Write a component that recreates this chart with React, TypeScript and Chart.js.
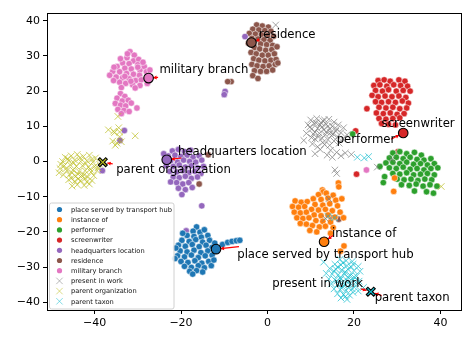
import React, { useEffect, useRef } from "react";
import { Chart, registerables } from "chart.js";

Chart.register(...registerables);

const X_TICKS = [-40, -20, 0, 20, 40];
const Y_TICKS = [-40, -30, -20, -10, 0, 10, 20, 30, 40];

type P = [number, number];

const SERIES_NAMES = [
  "place served by transport hub",
  "instance of",
  "performer",
  "screenwriter",
  "headquarters location",
  "residence",
  "military branch",
  "present in work",
  "parent organization",
  "parent taxon",
];

const placeServed: P[] = [
  [-16.4, -18.6], [-17.2, -19.8], [-15.6, -20.1], [-18.6, -21.0], [-17.0, -21.3], [-15.3, -21.5], [-13.8, -21.0],
  [-19.8, -22.4], [-18.1, -22.7], [-16.6, -22.2], [-15.0, -22.9], [-13.4, -22.4], [-20.6, -23.8], [-19.0, -24.1],
  [-17.4, -23.6], [-15.8, -24.2], [-14.2, -23.8], [-12.8, -24.4], [-20.2, -25.4], [-18.6, -25.7], [-17.0, -25.2],
  [-15.4, -25.9], [-13.8, -25.4], [-20.8, -26.8], [-19.2, -27.1], [-17.6, -26.6], [-16.0, -27.3], [-14.4, -26.8],
  [-12.8, -26.6], [-20.0, -28.4], [-18.4, -28.7], [-16.8, -28.2], [-15.2, -28.9], [-13.6, -28.4], [-19.2, -29.8],
  [-17.6, -30.1], [-16.0, -29.6], [-14.6, -30.2], [-18.0, -31.2], [-16.4, -31.0], [-21.2, -24.6], [-12.2, -23.2],
  [-10.4, -23.6], [-9.2, -23.0], [-8.2, -22.7], [-7.2, -22.5], [-6.4, -22.4], [-13.0, -29.6], [-19.6, -20.4],
  [-14.6, -19.4], [-21.4, -27.6], [-12.4, -28.0], [-15.0, -31.4], [-17.3, -32.0],
];

const instanceOf: P[] = [
  [12.7, -8.1], [16.4, -6.1], [12.9, -8.6], [11.8, -9.4], [13.6, -9.0], [15.2, -9.6], [10.6, -10.6], [12.4, -10.8],
  [14.0, -10.4], [15.8, -11.0], [17.2, -10.6], [6.4, -11.2], [7.8, -11.6], [9.2, -11.4], [11.0, -12.2], [12.8, -12.4],
  [14.4, -12.0], [16.2, -12.6], [5.8, -12.8], [7.2, -13.0], [8.6, -12.8], [10.2, -13.6], [11.8, -13.8], [13.4, -13.6],
  [15.0, -14.0], [16.8, -14.4], [6.2, -14.4], [7.6, -14.6], [9.0, -14.4], [10.8, -15.2], [12.4, -15.4], [14.0, -15.2],
  [15.6, -15.8], [6.8, -16.0], [8.2, -16.2], [9.6, -16.0], [11.2, -16.8], [12.8, -17.0], [14.6, -17.2], [7.6, -17.6],
  [9.0, -17.8], [10.4, -18.2], [12.0, -18.6], [13.4, -18.4], [15.2, -18.8], [9.8, -19.6], [11.4, -20.0], [14.6, -20.4],
  [17.7, -24.0], [16.9, -25.5], [17.6, -16.0], [29.4, -4.7], [29.2, -8.5], [16.5, -7.2],
];

const performer: P[] = [
  [29.0, 2.4], [30.6, 2.8], [32.2, 2.2], [34.0, 2.6], [35.6, 1.8], [28.2, 1.0], [29.8, 1.2], [31.4, 0.8], [33.0, 1.2],
  [34.6, 0.6], [36.2, 0.4], [37.8, 0.8], [27.4, -0.4], [29.0, -0.2], [30.6, -0.6], [32.2, -0.2], [33.8, -0.8],
  [35.4, -0.6], [37.0, -1.0], [38.6, -0.6], [28.2, -1.8], [29.8, -2.0], [31.4, -1.6], [33.0, -2.2], [34.6, -2.0],
  [36.2, -2.4], [37.8, -2.0], [39.4, -1.8], [29.0, -3.4], [30.6, -3.6], [32.2, -3.2], [33.8, -3.8], [35.4, -3.6],
  [37.0, -3.4], [38.6, -3.8], [30.0, -5.0], [31.6, -5.2], [33.2, -5.0], [34.8, -5.4], [36.4, -5.0], [38.0, -5.2],
  [31.0, -6.6], [32.8, -6.8], [34.4, -6.4], [36.0, -7.0], [37.6, -6.6], [39.2, -7.0], [34.0, -8.4], [36.8, -8.6],
  [38.4, -9.0], [26.0, -1.4], [27.1, -4.3], [19.7, 7.8], [26.8, -6.0],
];

const screenwriter: P[] = [
  [25.6, 23.0], [27.0, 23.2], [28.4, 22.8], [30.4, 23.2], [31.8, 22.8], [24.6, 21.6], [26.0, 21.8], [27.6, 21.4],
  [29.2, 21.8], [30.8, 21.6], [32.4, 21.4], [25.0, 20.2], [26.6, 20.0], [28.0, 20.4], [29.8, 20.0], [31.4, 20.2],
  [33.0, 20.0], [24.2, 18.8], [25.6, 18.4], [27.2, 18.6], [28.8, 18.4], [30.4, 18.6], [32.0, 18.2], [25.0, 17.0],
  [26.4, 16.8], [28.0, 17.0], [29.6, 16.8], [31.2, 17.2], [32.6, 16.6], [25.8, 15.4], [27.4, 15.2], [29.0, 15.4],
  [30.6, 15.0], [32.2, 15.2], [25.2, 13.8], [26.8, 13.6], [28.4, 13.8], [30.0, 13.4], [31.6, 13.6], [25.8, 12.2],
  [27.4, 12.0], [29.0, 12.2], [30.6, 12.4], [26.4, 10.8], [28.0, 10.6], [29.6, 10.4], [23.0, 15.0], [20.6, -3.6],
  [20.4, 8.7], [30.2, 2.8],
];

const headquarters: P[] = [
  [-22.0, 3.0], [-20.6, 3.4], [-19.2, 2.8], [-17.8, 3.2], [-23.0, 1.6], [-21.4, 1.8], [-20.0, 1.4], [-18.6, 1.8],
  [-17.2, 1.2], [-15.8, 1.6], [-22.4, 0.2], [-20.8, -0.2], [-19.4, 0.4], [-18.0, 0.0], [-16.6, -0.2], [-15.2, 0.4],
  [-23.4, -1.2], [-21.8, -1.4], [-20.4, -1.0], [-19.0, -1.6], [-17.6, -1.2], [-16.2, -1.8], [-14.8, -1.4],
  [-22.6, -2.8], [-21.0, -3.0], [-19.6, -2.6], [-18.2, -3.2], [-16.8, -2.8], [-15.4, -3.4], [-21.8, -4.4],
  [-20.4, -4.6], [-19.0, -4.2], [-17.6, -4.8], [-16.2, -4.4], [-22.4, -5.8], [-21.0, -6.0], [-19.6, -6.4],
  [-18.2, -6.0], [-20.6, -7.6], [-19.0, -8.0], [-17.4, -7.4], [-19.8, -9.4], [-15.2, -12.6], [-24.0, 2.2],
  [-38.2, -2.6], [-33.1, 8.8], [-34.1, 6.0], [-5.2, 35.5], [-9.8, 19.9], [-10.0, 19.0], [-18.8, -19.7],
];

const residence: P[] = [
  [-2.5, 38.8], [-1.2, 38.5], [0.2, 38.2], [-3.4, 37.6], [-2.0, 37.4], [-0.6, 37.2], [0.8, 37.0], [-4.2, 36.4],
  [-2.8, 36.2], [-1.4, 36.0], [0.0, 35.8], [1.4, 35.6], [-3.6, 35.0], [-2.2, 34.8], [-0.8, 34.6], [0.6, 34.4],
  [-4.4, 33.6], [-1.6, 33.4], [-0.2, 33.2], [1.2, 33.0], [-3.0, 32.4], [-1.8, 32.0], [-0.4, 31.6], [1.0, 31.8],
  [2.2, 32.6], [-3.8, 31.0], [-2.6, 30.6], [-1.2, 30.2], [0.2, 30.2], [1.6, 30.6], [-3.2, 29.2], [-2.0, 28.8],
  [-0.6, 28.6], [0.8, 28.8], [2.0, 29.0], [-3.6, 27.6], [-2.4, 27.2], [-1.0, 27.0], [0.4, 27.2], [1.8, 27.6],
  [-3.0, 25.8], [-1.6, 25.6], [-0.2, 25.6], [1.2, 26.0], [-3.4, 24.4], [-2.2, 23.6], [2.4, 28.0], [-15.8, -6.4],
  [-13.7, 1.9], [-8.4, 22.7], [-9.2, 22.7], [14.8, -16.1], [16.5, -16.4],
];

const militaryBranch: P[] = [
  [-31.8, 31.2], [-30.8, 30.2], [-32.5, 29.5], [-31.0, 28.6], [-29.8, 29.0], [-33.5, 28.0], [-32.0, 27.8],
  [-30.0, 27.5], [-34.8, 27.0], [-33.0, 26.5], [-31.5, 26.3], [-29.5, 26.0], [-28.5, 27.0], [-35.8, 25.6],
  [-34.2, 25.5], [-32.6, 25.0], [-31.0, 24.8], [-29.6, 24.5], [-28.0, 25.5], [-36.5, 24.5], [-35.0, 24.0],
  [-33.5, 23.8], [-32.0, 23.5], [-30.5, 23.0], [-29.2, 23.2], [-27.2, 26.0], [-34.2, 22.5], [-32.8, 22.2],
  [-31.2, 21.8], [-29.5, 21.6], [-35.6, 23.0], [-27.8, 22.2], [-33.8, 21.0], [-30.0, 26.8], [-32.4, 30.6],
  [-34.0, 29.2], [-35.5, 26.8], [-28.8, 28.2], [-33.0, 24.2], [-31.6, 22.8], [-30.6, 20.9],
  [-34.0, 19.3], [-33.0, 18.5], [-34.8, 18.0], [-33.6, 17.2], [-32.2, 17.4], [-35.2, 16.5], [-34.0, 16.0],
  [-32.8, 15.8], [-31.5, 16.6], [-34.6, 14.8], [-33.2, 14.5], [-32.0, 14.2], [-30.2, 15.2], [-33.8, 13.6],
  [22.9, -2.4],
];

const presentInWork: P[] = [
  [10.0, 11.8], [11.4, 12.2], [12.8, 11.6], [14.2, 12.0], [15.4, 11.2], [9.4, 10.4], [10.8, 10.8], [12.2, 10.4],
  [13.6, 10.6], [15.0, 10.0], [16.4, 10.4], [17.6, 9.6], [10.2, 9.2], [11.6, 9.4], [13.0, 9.0], [14.4, 9.2],
  [15.8, 8.6], [17.0, 8.2], [9.0, 8.0], [10.6, 7.8], [12.0, 8.0], [13.4, 7.6], [14.8, 7.4], [16.2, 7.0], [18.4, 7.6],
  [11.0, 6.4], [12.6, 6.6], [14.0, 6.2], [15.4, 5.8], [8.4, 6.0], [10.4, 5.0], [13.2, 4.8], [16.6, 5.2], [12.2, 3.4],
  [14.6, 3.2], [16.0, 2.6], [18.0, 2.4], [19.4, 2.0], [11.0, 2.2], [13.8, 1.8], [15.6, -2.4], [16.0, -3.4],
  [14.2, -10.6], [13.4, -16.2], [25.4, -1.6], [28.8, 0.6], [1.9, 38.8], [12.4, 11.0], [14.6, 8.2], [11.8, 7.0],
  [11.2, 11.0], [13.2, 11.8], [9.8, 9.8], [12.6, 9.8], [14.0, 10.0], [16.0, 9.2], [11.0, 8.4], [13.6, 8.4],
  [15.2, 7.8], [10.2, 6.8], [12.8, 5.4], [14.4, 4.6], [11.6, 4.2], [17.4, 6.4], [15.0, 1.2], [17.0, 1.6],
];

const parentOrganization: P[] = [
  [-46.8, 1.2], [-45.4, 1.6], [-44.0, 2.0], [-42.6, 1.4], [-41.2, 1.8], [-39.8, 1.0], [-47.4, 0.0], [-46.0, 0.2],
  [-44.6, 0.4], [-43.2, 0.0], [-41.8, 0.2], [-40.4, -0.2], [-47.0, -1.2], [-45.6, -1.0], [-44.2, -1.4],
  [-42.8, -1.2], [-41.4, -1.6], [-40.0, -1.4], [-46.4, -2.6], [-45.0, -2.4], [-43.6, -2.8], [-42.2, -2.6],
  [-40.8, -3.0], [-39.4, -2.6], [-47.2, -3.8], [-45.8, -3.8], [-44.4, -4.2], [-43.0, -4.0], [-41.6, -4.4],
  [-40.2, -4.0], [-46.0, -5.2], [-44.6, -5.6], [-43.2, -5.4], [-41.8, -5.8], [-40.6, -5.4], [-44.0, -6.6],
  [-42.4, -6.8], [-48.0, -2.0], [-38.8, -0.8], [-45.2, -7.0], [-34.6, 12.8], [-36.8, 9.0], [-34.4, 9.6],
  [-35.4, 8.2], [-34.2, 7.0], [-35.8, 5.8], [-34.8, 5.2], [-35.2, 4.6], [-30.6, 7.3], [-33.8, 5.6], [40.2, -7.1],
  [-46.2, 0.8], [-44.8, -0.4], [-43.4, 1.0], [-42.0, -0.6], [-40.6, 0.6], [-46.6, -2.0], [-45.2, -3.2],
  [-43.8, -3.6], [-42.4, -3.8], [-41.0, -2.2], [-45.4, -4.8], [-43.8, -5.0], [-42.2, -4.8], [-47.8, -0.8],
  [-39.2, -1.8], [-48.2, -3.2], [-41.2, -6.4], [-35.6, 8.6], [-34.2, 8.4],
];

const parentTaxon: P[] = [
  [16.8, -27.8], [18.2, -28.2], [19.6, -28.4], [15.6, -29.2], [17.0, -29.4], [18.4, -29.6], [19.8, -29.2],
  [21.0, -29.8], [14.4, -30.4], [15.8, -30.6], [17.2, -30.8], [18.6, -30.6], [20.0, -31.0], [21.4, -31.2],
  [13.6, -31.8], [15.0, -32.0], [16.4, -32.2], [17.8, -32.0], [19.2, -32.4], [20.6, -32.6], [14.2, -33.4],
  [15.6, -33.6], [17.0, -33.4], [18.4, -33.8], [19.8, -33.6], [21.2, -34.0], [14.8, -34.8], [16.2, -35.0],
  [17.6, -35.2], [19.0, -35.0], [20.4, -35.4], [15.4, -36.2], [16.8, -36.4], [18.2, -36.6], [19.6, -36.2],
  [21.0, -36.8], [16.2, -37.6], [17.6, -37.8], [19.0, -38.0], [17.0, -38.8], [18.4, -39.2], [22.2, -35.8],
  [13.0, -28.6], [20.8, 1.2], [22.4, 1.0], [23.4, 1.4], [14.0, -15.6], [15.5, -16.0],
  [17.4, -28.8], [16.2, -30.0], [18.0, -31.4], [19.4, -30.0], [15.4, -31.2], [16.8, -33.0], [18.6, -32.8],
  [20.0, -32.8], [17.4, -34.4], [18.8, -34.2], [16.0, -34.0], [17.2, -36.0], [18.8, -35.8], [19.8, -37.2],
  [18.0, -38.4], [20.4, -34.4],
];

const SERIES_POINTS: P[][] = [
  placeServed, instanceOf, performer, screenwriter, headquarters,
  residence, militaryBranch, presentInWork, parentOrganization, parentTaxon,
];

const ANNOTATIONS: { label: string; s: number; x: number; y: number; tx: number; ty: number; ax?: number; ay?: number }[] = [
  { label: "military branch", s: 6, x: -27.5, y: 23.7, tx: -25.0, ty: 26.0, ax: -25.3, ay: 23.9 },
  { label: "residence", s: 5, x: -3.7, y: 33.8, tx: -2.0, ty: 36.0, ax: -1.9, ay: 34.6 },
  { label: "screenwriter", s: 3, x: 31.4, y: 8.1, tx: 26.4, ty: 10.7, ax: 28.6, ay: 6.3 },
  { label: "performer", s: 2, x: 31.4, y: 8.1, tx: 16.0, ty: 6.2 },
  { label: "headquarters location", s: 4, x: -23.3, y: 0.5, tx: -20.7, ty: 2.8, ax: -19.9, ay: 1.0 },
  { label: "parent organization", s: 8, x: -38.1, y: -0.2, tx: -35.0, ty: -2.4, ax: -35.8, ay: -0.7 },
  { label: "instance of", s: 1, x: 13.1, y: -22.8, tx: 14.9, ty: -20.5, ax: 15.2, ay: -21.0 },
  { label: "place served by transport hub", s: 0, x: -11.9, y: -24.9, tx: -7.0, ty: -26.6, ax: -6.6, ay: -24.2 },
  { label: "present in work", s: 7, x: 23.9, y: -37.0, tx: 1.1, ty: -34.8, ax: 21.6, ay: -36.2 },
  { label: "parent taxon", s: 9, x: 23.9, y: -37.0, tx: 24.8, ty: -38.9, ax: 26.4, ay: -38.1 },
];

const COLORS = ["#1f77b4", "#ff7f0e", "#2ca02c", "#d62728", "#9467bd", "#8c564b", "#e377c2", "#7f7f7f", "#bcbd22", "#17becf"];
const IS_X = [false, false, false, false, false, false, false, true, true, true];

const FONT = '"DejaVu Sans", "Liberation Sans", sans-serif';

const fmt = (v: number) => (v < 0 ? "\u2212" + Math.abs(v) : String(v));

function drawX(ctx: CanvasRenderingContext2D, x: number, y: number, r: number) {
  ctx.beginPath();
  ctx.moveTo(x - r, y - r);
  ctx.lineTo(x + r, y + r);
  ctx.moveTo(x + r, y - r);
  ctx.lineTo(x - r, y + r);
  ctx.stroke();
}

function drawFilledX(ctx: CanvasRenderingContext2D, x: number, y: number, r: number, w: number) {
  const pts: [number, number][] = [
    [0, -w], [r - w, -r], [r, -r + w], [w, 0], [r, r - w], [r - w, r], [0, w], [-r + w, r], [-r, r - w], [-w, 0], [-r, -r + w], [-r + w, -r],
  ];
  ctx.beginPath();
  pts.forEach(([dx, dy], i) => (i === 0 ? ctx.moveTo(x + dx, y + dy) : ctx.lineTo(x + dx, y + dy)));
  ctx.closePath();
  ctx.fill();
  ctx.stroke();
}

const framePlugin = {
  id: "frame",
  afterDatasetsDraw(chart: any) {
    const { ctx, chartArea: a, scales } = chart;
    const xs = scales.x, ys = scales.y;
    ctx.save();
    ANNOTATIONS.forEach((an) => {
      const px = xs.getPixelForValue(an.x), py = ys.getPixelForValue(an.y);
      const color = COLORS[an.s];
      if (an.ax !== undefined && an.ay !== undefined) {
        const sx = xs.getPixelForValue(an.ax), sy = ys.getPixelForValue(an.ay);
        const ang = Math.atan2(py - sy, px - sx);
        const ex = px - Math.cos(ang) * 4.5, ey = py - Math.sin(ang) * 4.5;
        ctx.strokeStyle = "#ff0000";
        ctx.fillStyle = "#ff0000";
        ctx.lineWidth = 1.2;
        ctx.beginPath();
        ctx.moveTo(sx, sy);
        ctx.lineTo(ex, ey);
        ctx.stroke();
        const h = 4;
        ctx.beginPath();
        ctx.moveTo(ex, ey);
        ctx.lineTo(ex - Math.cos(ang - 0.5) * h, ey - Math.sin(ang - 0.5) * h);
        ctx.lineTo(ex - Math.cos(ang + 0.5) * h, ey - Math.sin(ang + 0.5) * h);
        ctx.closePath();
        ctx.fill();
      }
      if (an.label !== "performer" && an.label !== "present in work") {
        ctx.lineWidth = 1.1;
        ctx.strokeStyle = "#000";
        ctx.fillStyle = color;
        if (IS_X[an.s]) {
          drawFilledX(ctx, px, py, 4.5, 1.6);
        } else {
          ctx.beginPath();
          ctx.arc(px, py, 4.8, 0, Math.PI * 2);
          ctx.fill();
          ctx.stroke();
        }
      }
    });
    ctx.fillStyle = "#000";
    ctx.font = `11.7px ${FONT}`;
    ctx.textBaseline = "middle";
    ctx.textAlign = "left";
    ANNOTATIONS.forEach((an) => {
      ctx.fillText(an.label, xs.getPixelForValue(an.tx), ys.getPixelForValue(an.ty));
    });
    ctx.strokeStyle = "#000";
    ctx.lineWidth = 1;
    ctx.strokeRect(Math.round(a.left) + 0.5, Math.round(a.top) + 0.5, Math.round(a.right - a.left) - 1, Math.round(a.bottom - a.top));
    const lx = 49, ly = 202.5, lw = 124.5, lh = 106;
    ctx.fillStyle = "rgba(255,255,255,0.85)";
    ctx.strokeStyle = "#d0d0d0";
    ctx.lineWidth = 1;
    ctx.beginPath();
    (ctx as any).roundRect(lx + 0.5, ly + 0.5, lw, lh, 2);
    ctx.fill();
    ctx.stroke();
    ctx.font = `6.7px ${FONT}`;
    SERIES_NAMES.forEach((name, i) => {
      const cy = 209.5 + i * 10.2;
      const cx = 59.5;
      if (IS_X[i]) {
        ctx.strokeStyle = COLORS[i];
        ctx.globalAlpha = 0.6;
        ctx.lineWidth = 0.9;
        drawX(ctx, cx, cy, 3.2);
        ctx.globalAlpha = 1;
      } else {
        ctx.fillStyle = COLORS[i];
        ctx.beginPath();
        ctx.arc(cx, cy, 2.6, 0, Math.PI * 2);
        ctx.fill();
      }
      ctx.fillStyle = "#111";
      ctx.fillText(name, 71, cy + 0.5);
    });
    ctx.restore();
  },
};

export default function App() {
  const ref = useRef<HTMLCanvasElement>(null);
  useEffect(() => {
    document.body.style.margin = "0";
    const canvas = ref.current!;
    const datasets = SERIES_NAMES.map((name, i) => ({
      label: name,
      data: SERIES_POINTS[i].map(([x, y]) => ({ x, y })),
      pointStyle: IS_X[i] ? "crossRot" : "circle",
      pointRadius: IS_X[i] ? 4.6 : 3.2,
      backgroundColor: COLORS[i],
      borderColor: IS_X[i] ? COLORS[i] + "cc" : "#ffffff",
      borderWidth: IS_X[i] ? 0.9 : 0.5,
      order: IS_X[i] ? 0 : 1,
    }));
    const tickCommon = {
      font: { family: FONT, size: 11 },
      color: "#000",
      padding: 3,
      autoSkip: false,
      maxRotation: 0,
      callback: (v: any) => fmt(Number(v)),
    };
    const gridCommon = {
      display: true,
      drawOnChartArea: false,
      drawTicks: true,
      tickLength: 4,
      tickColor: "#000",
      color: "#000",
    };
    const chart = new Chart(canvas, {
      type: "scatter",
      data: { datasets: datasets as any },
      options: {
        animation: false,
        responsive: false,
        devicePixelRatio: 1,
        layout: { padding: { top: 13, right: 12, left: 0, bottom: 0 } },
        plugins: { legend: { display: false }, tooltip: { enabled: false } },
        scales: {
          x: {
            type: "linear",
            min: -51,
            max: 45,
            afterBuildTicks: (s: any) => {
              s.ticks = X_TICKS.map((v) => ({ value: v }));
            },
            afterFit: (s: any) => {
              s.height = 34;
            },
            grid: gridCommon,
            border: { display: false },
            ticks: tickCommon,
          },
          y: {
            type: "linear",
            min: -42.2,
            max: 42.2,
            afterBuildTicks: (s: any) => {
              s.ticks = Y_TICKS.map((v) => ({ value: v }));
            },
            afterFit: (s: any) => {
              s.width = 47;
            },
            grid: gridCommon,
            border: { display: false },
            ticks: tickCommon,
          },
        },
      } as any,
      plugins: [framePlugin],
    });
    return () => chart.destroy();
  }, []);
  return (
    <div style={{ width: 474, height: 344 }}>
      <canvas ref={ref} width={474} height={344} style={{ display: "block" }} />
    </div>
  );
}
